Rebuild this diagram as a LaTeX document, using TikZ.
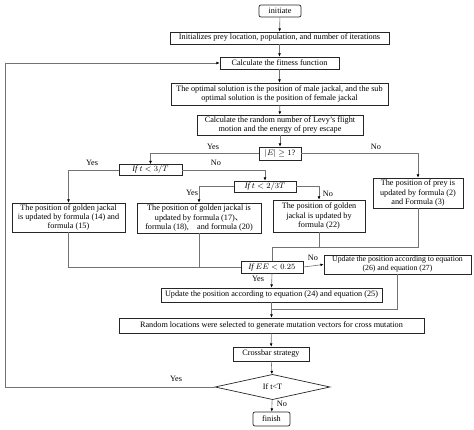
\documentclass[tikz,border=0pt]{standalone}
\usepackage{amsmath,amssymb}
\usepackage{fontspec}
\setmainfont{Liberation Serif}
\newfontfamily\cjk{Noto Sans CJK SC}
\usetikzlibrary{arrows.meta,shapes.geometric}

\tikzset{
  procbox/.style={draw=black!85, line width=0.7pt, align=center, inner sep=0pt,
    font=\fontsize{8.2}{9.4}\selectfont},
  endbox/.style={procbox, rounded corners=2pt},
  flowline/.style={draw=black!55, line width=0.6pt},
  flowarrow/.style={flowline, -{Latex[length=3.2pt,width=2.8pt,black]}},
  answer/.style={font=\fontsize{8.2}{9.4}\selectfont, inner sep=0pt},
}

\begin{document}
\begin{tikzpicture}[x=1pt,y=-1pt]
  \useasboundingbox (0,0) rectangle (474,430);

  %% main column
  \node [endbox, minimum width=42pt, minimum height=12pt] (initiate) at (280,11) {initiate};
  \node [procbox, minimum width=219pt, minimum height=12pt] (init) at (279.5,38)
    {Initializes prey location, population, and number of iterations};
  \node [procbox, minimum width=119pt, minimum height=12pt] (fitness) at (279.5,63)
    {Calculate the fitness function};
  \node [procbox, minimum width=217pt, minimum height=22pt] (optimal) at (279.5,94)
    {The optimal solution is the position of male jackal, and the sub\\
     optimal solution is the position of female jackal};
  \node [procbox, minimum width=166pt, minimum height=20pt] (levy) at (280,125)
    {Calculate the random number of Levy's flight\\motion and the energy of prey escape};
  \node [procbox, minimum width=42pt, minimum height=13pt] (energy) at (280,153.5)
    {$|E|\geq 1$?};

  %% branches
  \node [procbox, minimum width=63pt, minimum height=11pt] (early) at (150.5,170)
    {$\mathit{If}\ t<3/T$};
  \node [procbox, minimum width=62pt, minimum height=11pt] (middle) at (265,186.5)
    {$\mathit{If}\ t<2/3T$};
  \node [procbox, minimum width=90pt, minimum height=30pt] (prey) at (418,193)
    {The position of prey is\\updated by formula (2)\\and Formula (3)};
  \node [procbox, minimum width=113pt, minimum height=29pt] (golden1) at (68.5,217.5)
    {The position of golden jackal\\is updated by formula (14) and\\formula (15)};
  \node [procbox, minimum width=124pt, minimum height=30pt] (golden2) at (199,218)
    {The position of golden jackal is\\updated by formula (17){\cjk 、}\\formula (18),\quad and formula (20)};
  \node [procbox, minimum width=92pt, minimum height=32pt] (golden3) at (319,216)
    {The position of golden\\jackal is updated by\\formula (22)};

  %% lower part
  \node [procbox, minimum width=62pt, minimum height=12pt] (escape) at (272,267)
    {$\mathit{If}\ EE<0.25$};
  \node [procbox, minimum width=147pt, minimum height=19pt, font=\fontsize{7.8}{9}\selectfont]
    (update26) at (397.5,264.5)
    {Update the position according to equation\\(26) and equation (27)};
  \node [procbox, minimum width=221pt, minimum height=14pt] (update24) at (271.5,295)
    {Update the position according to equation (24) and equation (25)};
  \node [procbox, minimum width=305pt, minimum height=15pt] (mutation) at (271.5,325.5)
    {Random locations were selected to generate mutation vectors for cross mutation};
  \node [procbox, minimum width=76pt, minimum height=14pt] (crossbar) at (271,354)
    {Crossbar strategy};
  \node [procbox, diamond, minimum width=115pt, minimum height=20pt] (decide) at (272.5,387)
    {If t<T};
  \node [endbox, minimum width=37pt, minimum height=14pt] (finish) at (271.5,419) {finish};

  %% answers
  \node [answer] (yesE) at (213,147) {Yes};
  \node [answer] (noE) at (376,147) {No};
  \node [answer] (yesEarly) at (92,163) {Yes};
  \node [answer] (noEarly) at (216,163) {No};
  \node [answer] (yesMiddle) at (192,193) {Yes};
  \node [answer] (noMiddle) at (328,194) {No};
  \node [answer] (noEscape) at (313,258) {No};
  \node [answer] (yesEscape) at (258,279) {Yes};
  \node [answer] (yesLoop) at (176,379) {Yes};
  \node [answer] (noLoop) at (282,404) {No};

  %% helper points for the merging lines
  \coordinate (mergeR) at (272,247);
  \coordinate (merge26) at (272,309);
  \coordinate (loop) at (5,387);

  \draw [flowarrow] (initiate) -- (init);
  \draw [flowarrow] (init) -- (fitness);
  \draw [flowarrow] (fitness) -- (optimal);
  \draw [flowarrow] (optimal) -- (levy);
  \draw [flowarrow] (levy) -- (energy);
  \draw [flowarrow] (energy.west) -| (early.north);
  \draw [flowarrow] (energy.east) -| (prey.north);
  \draw [flowarrow] (early.west) -| (golden1.north);
  \draw [flowarrow] (early.east) -| (middle.north);
  \draw [flowarrow] (middle.west) -| (golden2.north);
  \draw [flowarrow] (middle.east) -| (golden3.north);

  \draw [flowline] (golden1.south) |- (escape.west);
  \draw [flowline] (golden2.south) -- (golden2.south |- escape.west);
  \draw [flowline] (prey.south) |- (mergeR) -- (escape.north);
  \draw [flowline] (golden3.south) -- (golden3.south |- mergeR);

  \draw [flowarrow] (escape.east) -- (update26.west);
  \draw [flowarrow] (escape.south) -- (update24.north);
  \draw [flowarrow] (update24.south) -- (update24.south |- mutation.north);
  \draw [flowline] (update26.south) |- (merge26);
  \draw [flowarrow] (mutation) -- (crossbar);
  \draw [flowarrow] (crossbar) -- (decide);
  \draw [flowarrow] (decide) -- (finish);
  \draw [flowarrow] (decide.west) -- (loop) |- (fitness.west);
\end{tikzpicture}
\end{document}
